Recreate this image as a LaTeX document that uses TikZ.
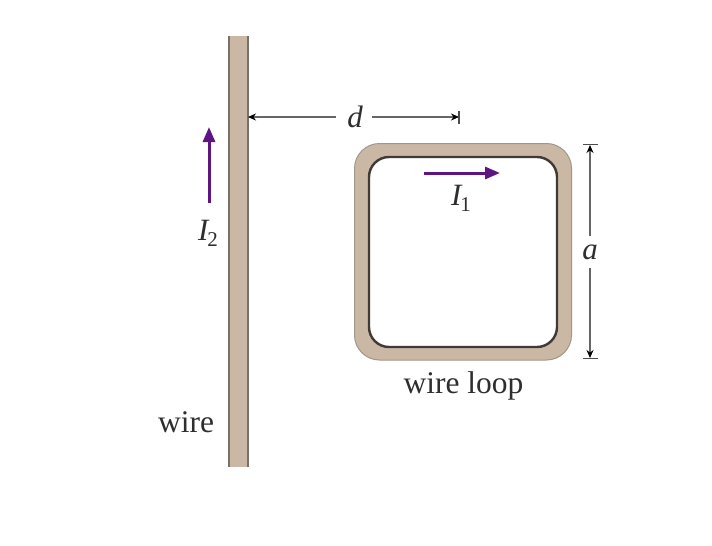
\documentclass[tikz,border=0pt]{standalone}
\usepackage{fontspec}
\setmainfont{Liberation Serif}
\usetikzlibrary{arrows.meta}
\definecolor{wiretan}{HTML}{CAB8A5}
\definecolor{wireedge}{HTML}{77716B}
\definecolor{outeredge}{HTML}{A0968B}
\definecolor{loopedge}{HTML}{3F3A36}
\definecolor{current}{HTML}{5E1483}
\definecolor{dimline}{HTML}{666666}
\tikzset{
  lbl/.style={inner sep=0pt,font=\fontsize{31.5}{31.5}\selectfont,text=black!82},
  sym/.style={inner sep=0pt,font=\fontsize{31}{31}\selectfont\itshape,text=black!82},
  currentarrow/.style={draw=current,line width=3pt,-{Triangle[length=15pt,width=12pt]}},
  dimarrow/.style={draw=dimline,line width=1.2pt,-{Stealth[length=8pt,width=7pt,color=black]}},
  dimtick/.style={draw=black!70,line width=1.3pt},
  wirebody/.style={fill=wiretan,draw=none,inner sep=0pt,minimum width=21pt,minimum height=431pt},
}
\begin{document}
\begin{tikzpicture}[x=1pt,y=-1pt]
\useasboundingbox (0,0) rectangle (712,546);
% straight wire
\node[wirebody] (wirebar) at (238.5,251.5) {};
\draw[wireedge,line width=2.6pt] ([xshift=1.3pt]wirebar.north west) -- ([xshift=1.3pt]wirebar.south west);
\draw[wireedge,line width=2.6pt] ([xshift=-1.3pt]wirebar.north east) -- ([xshift=-1.3pt]wirebar.south east);
% loop
\draw[outeredge,line width=1pt,fill=wiretan,rounded corners=25pt] (354.5,143.5) rectangle (571.5,360);
\draw[loopedge,line width=2.4pt,fill=white,rounded corners=20pt] (369,157) rectangle (557,347);
% labels
\node[lbl,anchor=base] (wirelabel) at (186,432) {wire};
\node[lbl,anchor=base] (looplabel) at (463.5,393) {wire loop};
\node[sym,anchor=base] (dlabel) at (355,127) {d};
\node[sym,anchor=base] (alabel) at (590,259) {a};
\node[sym,anchor=base] (ione) at (461,205) {I\kern-1pt\raisebox{-6pt}{\fontsize{21}{21}\selectfont\upshape 1}};
\node[sym,anchor=base] (itwo) at (208,240) {I\kern-1pt\raisebox{-6pt}{\fontsize{21}{21}\selectfont\upshape 2}};
% current arrows
\coordinate (ionestart) at (424,173);
\coordinate (ioneend) at (500,173);
\coordinate (itwostart) at (209,203);
\coordinate (itwoend) at (209,127);
\draw[currentarrow] (ionestart) -- (ioneend);
\draw[currentarrow] (itwostart) -- (itwoend);
% dimension d
\coordinate (dleft) at (248,117);
\coordinate (dright) at (459,117);
\draw[dimarrow] ([xshift=-19pt]dlabel.center |- dleft) -- (dleft);
\draw[dimarrow] ([xshift=17pt]dlabel.center |- dright) -- (dright);
\draw[dimtick] (459,111) -- (459,124);
% dimension a
\coordinate (atop) at (590,145);
\coordinate (abot) at (590,358);
\draw[dimarrow] (590,236) -- (atop);
\draw[dimarrow] (590,268) -- (abot);
\draw[dimtick] (583,144.5) -- (598,144.5);
\draw[dimtick] (583,358.5) -- (598,358.5);
\end{tikzpicture}
\end{document}
